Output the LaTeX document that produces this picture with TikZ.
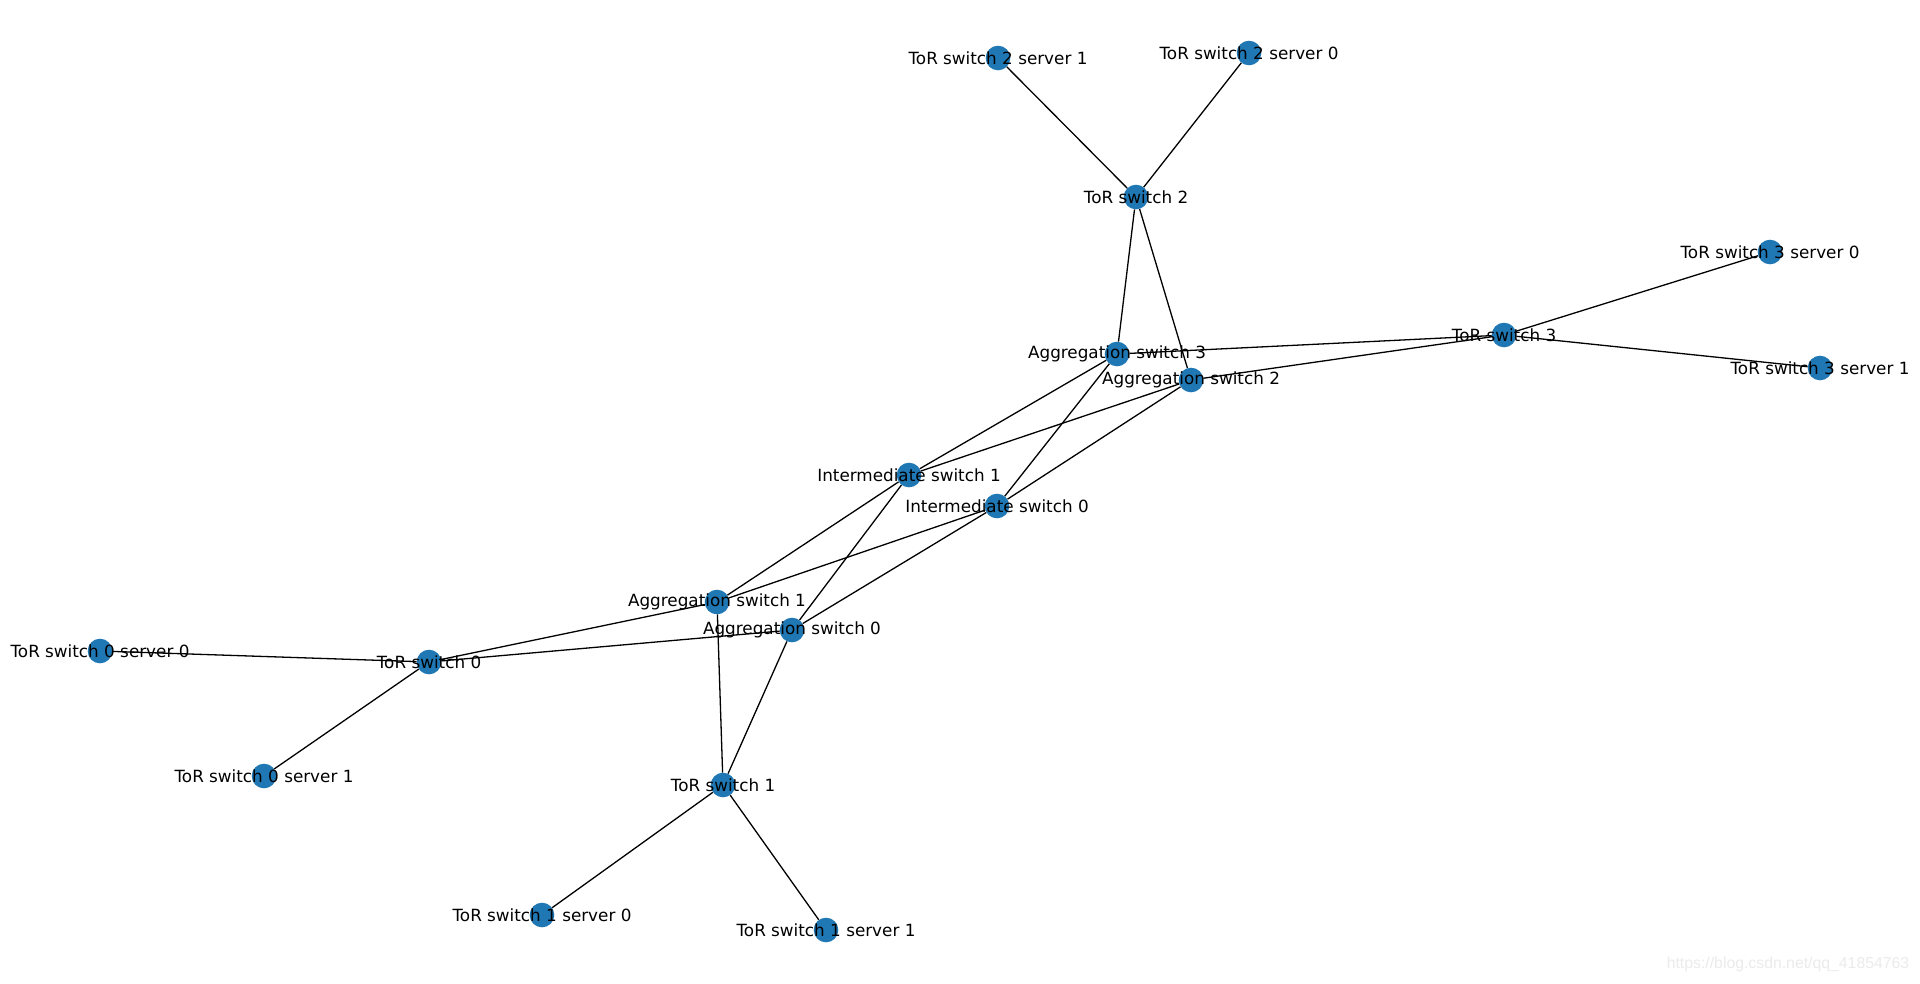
\documentclass[tikz,border=0pt]{standalone}
\usepackage{fontspec}
\setmainfont{DejaVu Sans}
\newfontfamily\wmfont{Liberation Sans}
\definecolor{nodeblue}{HTML}{1F77B4}
\definecolor{wmgray}{HTML}{EBEBEB}
\begin{document}
\begin{tikzpicture}[x=1pt,y=-1pt,
  dot/.style={circle,fill=nodeblue,draw=none,minimum size=24.6pt,inner sep=0pt},
  lbl/.style={inner sep=0pt,font=\fontsize{16.8}{20}\selectfont,text=black},
  edge/.style={draw=black,line width=1.3pt}]
\useasboundingbox (0,0) rectangle (1920,983);
\fill[white] (0,0) rectangle (1920,983);
% nodes
\node[dot] (ts2s1) at (998,58) {};
\node[dot] (ts2s0) at (1249,53) {};
\node[dot] (ts2) at (1136,197) {};
\node[dot] (ts3s0) at (1770,252) {};
\node[dot] (ts3) at (1504,335) {};
\node[dot] (ts3s1) at (1820,368) {};
\node[dot] (agg3) at (1117,354) {};
\node[dot] (agg2) at (1191,380) {};
\node[dot] (int1) at (909,475) {};
\node[dot] (int0) at (997,506) {};
\node[dot] (agg1) at (717,602) {};
\node[dot] (agg0) at (792,630) {};
\node[dot] (ts0s0) at (100,651) {};
\node[dot] (ts0) at (429,662) {};
\node[dot] (ts0s1) at (264,776) {};
\node[dot] (ts1) at (723,785) {};
\node[dot] (ts1s0) at (542,915) {};
\node[dot] (ts1s1) at (826,930) {};
% edges
\path[edge] (ts2s1) -- (ts2);
\path[edge] (ts2s0) -- (ts2);
\path[edge] (ts2) -- (agg3);
\path[edge] (ts2) -- (agg2);
\path[edge] (ts3) -- (ts3s0);
\path[edge] (ts3) -- (ts3s1);
\path[edge] (ts3) -- (agg3);
\path[edge] (ts3) -- (agg2);
\path[edge] (agg3) -- (int1);
\path[edge] (agg3) -- (int0);
\path[edge] (agg2) -- (int1);
\path[edge] (agg2) -- (int0);
\path[edge] (int1) -- (agg1);
\path[edge] (int1) -- (agg0);
\path[edge] (int0) -- (agg1);
\path[edge] (int0) -- (agg0);
\path[edge] (agg1) -- (ts0);
\path[edge] (agg0) -- (ts0);
\path[edge] (agg1) -- (ts1);
\path[edge] (agg0) -- (ts1);
\path[edge] (ts0) -- (ts0s0);
\path[edge] (ts0) -- (ts0s1);
\path[edge] (ts1) -- (ts1s0);
\path[edge] (ts1) -- (ts1s1);
% labels
\node[lbl] (l-ts2s1) at (ts2s1) {ToR switch 2 server 1};
\node[lbl] (l-ts2s0) at (ts2s0) {ToR switch 2 server 0};
\node[lbl] (l-ts2) at (ts2) {ToR switch 2};
\node[lbl] (l-ts3s0) at (ts3s0) {ToR switch 3 server 0};
\node[lbl] (l-ts3) at (ts3) {ToR switch 3};
\node[lbl] (l-ts3s1) at (ts3s1) {ToR switch 3 server 1};
\node[lbl] (l-agg3) at (agg3) {Aggregation switch 3};
\node[lbl] (l-agg2) at (agg2) {Aggregation switch 2};
\node[lbl] (l-int1) at (int1) {Intermediate switch 1};
\node[lbl] (l-int0) at (int0) {Intermediate switch 0};
\node[lbl] (l-agg1) at (agg1) {Aggregation switch 1};
\node[lbl] (l-agg0) at (agg0) {Aggregation switch 0};
\node[lbl] (l-ts0s0) at (ts0s0) {ToR switch 0 server 0};
\node[lbl] (l-ts0) at (ts0) {ToR switch 0};
\node[lbl] (l-ts0s1) at (ts0s1) {ToR switch 0 server 1};
\node[lbl] (l-ts1) at (ts1) {ToR switch 1};
\node[lbl] (l-ts1s0) at (ts1s0) {ToR switch 1 server 0};
\node[lbl] (l-ts1s1) at (ts1s1) {ToR switch 1 server 1};
% watermark
\node[inner sep=0pt,text=wmgray,font=\wmfont\fontsize{15.8}{18}\selectfont] (wm) at (1788,964) {https://blog.csdn.net/qq\_41854763};
\end{tikzpicture}
\end{document}
